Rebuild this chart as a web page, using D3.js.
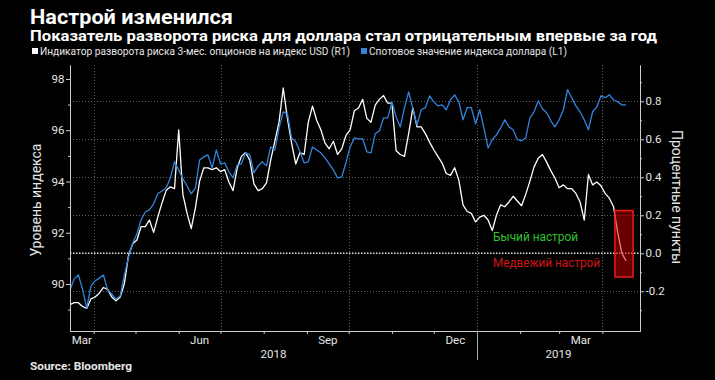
<!DOCTYPE html>
<html>
<head>
<meta charset="utf-8">
<script src="https://cdn.jsdelivr.net/npm/d3@7"></script>
<style>
  body { margin: 0; background: #000; }
  svg { display: block; font-family: Roboto, "Noto Sans", sans-serif; }
</style>
</head>
<body>
<div id="chart"></div>
<script>
// data, every 3 days
var dates = [
  "2018-03-15","2018-03-18","2018-03-21","2018-03-24","2018-03-27","2018-03-30",
  "2018-04-02","2018-04-05","2018-04-08","2018-04-11","2018-04-14","2018-04-17","2018-04-20","2018-04-23","2018-04-26","2018-04-29",
  "2018-05-02","2018-05-05","2018-05-08","2018-05-11","2018-05-14","2018-05-17","2018-05-20","2018-05-23","2018-05-26","2018-05-29",
  "2018-06-01","2018-06-04","2018-06-07","2018-06-10","2018-06-13","2018-06-16","2018-06-19","2018-06-22","2018-06-25","2018-06-28",
  "2018-07-01","2018-07-04","2018-07-07","2018-07-10","2018-07-13","2018-07-16","2018-07-19","2018-07-22","2018-07-25","2018-07-28","2018-07-31",
  "2018-08-03","2018-08-06","2018-08-09","2018-08-12","2018-08-15","2018-08-18","2018-08-21","2018-08-24","2018-08-27","2018-08-30",
  "2018-09-02","2018-09-05","2018-09-08","2018-09-11","2018-09-14","2018-09-17","2018-09-20","2018-09-23","2018-09-26","2018-09-29",
  "2018-10-02","2018-10-05","2018-10-08","2018-10-11","2018-10-14","2018-10-17","2018-10-20","2018-10-23","2018-10-26","2018-10-29",
  "2018-11-01","2018-11-04","2018-11-07","2018-11-10","2018-11-13","2018-11-16","2018-11-19","2018-11-22","2018-11-25","2018-11-28",
  "2018-12-01","2018-12-04","2018-12-07","2018-12-10","2018-12-13","2018-12-16","2018-12-19","2018-12-22","2018-12-25","2018-12-28","2018-12-31",
  "2019-01-03","2019-01-06","2019-01-09","2019-01-12","2019-01-15","2019-01-18","2019-01-21","2019-01-24","2019-01-27","2019-01-30",
  "2019-02-02","2019-02-05","2019-02-08","2019-02-11","2019-02-14","2019-02-17","2019-02-20","2019-02-23","2019-02-26",
  "2019-03-01","2019-03-04","2019-03-07","2019-03-10","2019-03-13","2019-03-16","2019-03-19","2019-03-22","2019-03-25","2019-03-28","2019-03-31",
  "2019-04-03","2019-04-06","2019-04-09","2019-04-12","2019-04-15","2019-04-18"
];

// spot dollar index (L1)
var dollarIndex = [
  89.77, 90.20, 90.35, 89.80, 89.06, 89.92,
  90.12, 90.23, 90.35, 89.77, 89.61, 89.41, 89.53, 90.35, 91.05, 91.60,
  91.95, 92.50, 92.81, 92.89, 93.13, 93.52, 93.63, 93.75, 94.14, 94.77,
  94.45, 94.10, 93.83, 93.52, 93.75, 94.84, 94.96, 95.04, 94.53, 95.23,
  94.69, 94.73, 94.38, 94.14, 94.65, 94.69, 95.12, 95.04, 94.34, 94.61, 94.77,
  94.61, 95.35, 95.23, 96.09, 96.72, 96.64, 95.70, 95.55, 95.16, 94.73,
  94.77, 95.35, 95.23, 95.12, 94.92, 94.69, 94.45, 94.14, 94.18, 94.73,
  95.35, 95.70, 95.66, 95.66, 95.16, 95.12, 95.86, 95.98, 96.48, 96.48,
  97.11, 96.52, 96.13, 96.88, 97.50, 96.84, 96.21, 96.80, 96.88, 97.34,
  97.11, 96.95, 96.99, 96.80, 97.19, 97.38, 97.11, 96.41, 96.88, 96.88, 96.25,
  96.80, 96.09, 95.31, 95.63, 95.82, 96.09, 96.41, 96.13, 96.02, 95.63,
  95.59, 95.70, 96.48, 96.72, 97.15, 96.84, 96.68, 96.37, 96.13,
  96.41, 96.80, 97.58, 97.27, 96.95, 96.72, 96.41, 96.02, 96.72, 96.91, 97.34,
  97.27, 97.38, 97.19, 97.11, 96.99, 96.99
];

// 3m risk reversal on USD index (R1)
var riskReversal = [
  -0.27, -0.26, -0.26, -0.28, -0.29, -0.24,
  -0.23, -0.21, -0.18, -0.19, -0.23, -0.25, -0.23, -0.16, -0.01, 0.05,
  0.07, 0.14, 0.14, 0.175, 0.11, 0.19, 0.265, 0.33, 0.35, 0.34,
  0.65, 0.31, 0.21, 0.13, 0.24, 0.38, 0.45, 0.45, 0.44, 0.45,
  0.43, 0.44, 0.375, 0.33, 0.45, 0.51, 0.53, 0.49, 0.365, 0.33, 0.34,
  0.37, 0.49, 0.59, 0.69, 0.87, 0.71, 0.58, 0.47, 0.53, 0.52,
  0.69, 0.775, 0.70, 0.65, 0.58, 0.55, 0.59, 0.52, 0.55, 0.62,
  0.65, 0.75, 0.765, 0.81, 0.71, 0.69, 0.78, 0.81, 0.83, 0.79,
  0.79, 0.54, 0.52, 0.51, 0.63, 0.765, 0.665, 0.665, 0.63, 0.585,
  0.545, 0.51, 0.475, 0.42, 0.41, 0.45, 0.385, 0.255, 0.22, 0.21, 0.165,
  0.19, 0.20, 0.175, 0.12, 0.20, 0.255, 0.245, 0.27, 0.30, 0.275,
  0.25, 0.31, 0.38, 0.455, 0.50, 0.52, 0.48, 0.435, 0.395,
  0.345, 0.36, 0.34, 0.34, 0.315, 0.27, 0.175, 0.415, 0.36, 0.375, 0.355,
  0.315, 0.29, 0.245, 0.11, 0.00, -0.04
];

var leftTicks = [90, 92, 94, 96, 98];
var leftMinor = [89, 91, 93, 95, 97];
var rightTicks = [-0.2, 0, 0.2, 0.4, 0.6, 0.8];
var rightMinor = [-0.3, -0.1, 0.1, 0.3, 0.5, 0.7, 0.9];
var monthLabels = ["Mar", "Jun", "Sep", "Dec", "Mar"];
var monthLabelStarts = ["2018-03-01", "2018-06-01", "2018-09-01", "2018-12-01", "2019-03-01"];
var yearLabels = ["2018", "2019"];
var legendLabels = ["Индикатор разворота риска 3-мес. опционов на индекс USD (R1)", "Спотовое значение индекса доллара (L1)"];
var boxDates = ["2019-04-10", "2019-04-23"];
var boxValues = [0.225, -0.125];

var width = 715, height = 380;
var parse = d3.timeParse("%Y-%m-%d");
var blue = "#3384dc";

var svg = d3.select("#chart").append("svg")
  .attr("width", width)
  .attr("height", height);

svg.append("rect")
  .attr("width", width)
  .attr("height", height)
  .attr("fill", "#000");

var plotTop = 65, plotBottom = 331, plotLeft = 70, plotRight = 640;
var x0 = parse("2018-03-15"), x1 = parse("2019-04-28");

var x = d3.scaleTime().domain([x0, x1]).range([plotLeft, plotRight]);
var yL = d3.scaleLinear().domain([88.166, 98.546]).range([plotBottom, plotTop]);
var yR = d3.scaleLinear().domain([-0.409, 0.991]).range([plotBottom, plotTop]);

// titles
svg.append("text").text("Настрой изменился")
  .attr("x", 30).attr("y", 24)
  .attr("fill", "#fff")
  .attr("font-weight", "bold")
  .attr("font-size", "21px")
  .attr("textLength", 203)
  .attr("lengthAdjust", "spacingAndGlyphs");

svg.append("text").text("Показатель разворота риска для доллара стал отрицательным впервые за год")
  .attr("x", 30).attr("y", 41)
  .attr("fill", "#fff")
  .attr("font-weight", "bold")
  .attr("font-size", "14.5px")
  .attr("textLength", 627)
  .attr("lengthAdjust", "spacingAndGlyphs");

// legend
var legendX = [32, 361], legendW = [310, 198];
var legendColors = ["#fff", blue];
legendLabels.forEach(function(t, i) {
  svg.append("rect")
    .attr("x", legendX[i]).attr("y", 48)
    .attr("width", 6).attr("height", 6)
    .attr("fill", legendColors[i]);
  svg.append("text").text(t)
    .attr("x", legendX[i] + 8).attr("y", 55)
    .attr("fill", "#e6e6e6")
    .attr("font-size", "10px")
    .attr("textLength", legendW[i])
    .attr("lengthAdjust", "spacingAndGlyphs");
});

// grid
var grid = svg.append("g");
grid.selectAll("line.h")
  .data(rightTicks.filter(function(d) { return d !== 0; }))
  .enter().append("line")
  .attr("x1", plotLeft).attr("x2", plotRight)
  .attr("y1", function(d) { return Math.round(yR(d)) + 0.5; })
  .attr("y2", function(d) { return Math.round(yR(d)) + 0.5; })
  .attr("stroke", "#777")
  .attr("stroke-width", 0.8)
  .attr("stroke-dasharray", "1,2");

var quarters = d3.timeMonths(x0, x1).filter(function(d) { return d.getMonth() % 3 === 0; });
grid.selectAll("line.v")
  .data(quarters)
  .enter().append("line")
  .attr("x1", function(d) { return Math.round(x(d)) + 0.5; })
  .attr("x2", function(d) { return Math.round(x(d)) + 0.5; })
  .attr("y1", plotTop).attr("y2", plotBottom)
  .attr("stroke", "#777")
  .attr("stroke-width", 0.8)
  .attr("stroke-dasharray", "1,2");

// zero line
svg.append("line")
  .attr("x1", plotLeft).attr("x2", plotRight)
  .attr("y1", yR(0)).attr("y2", yR(0))
  .attr("stroke", "#ddd")
  .attr("stroke-width", 1.6)
  .attr("stroke-dasharray", "1.5,1.5");

// lines
var rrLine = d3.line()
  .x(function(d, i) { return x(parse(dates[i])); })
  .y(function(d) { return yR(d); });
var dxyLine = d3.line()
  .x(function(d, i) { return x(parse(dates[i])); })
  .y(function(d) { return yL(d); });

svg.append("path")
  .datum(riskReversal)
  .attr("d", rrLine)
  .attr("fill", "none")
  .attr("stroke", "#fff")
  .attr("stroke-width", 1.3)
  .attr("stroke-linejoin", "round");

svg.append("path")
  .datum(dollarIndex)
  .attr("d", dxyLine)
  .attr("fill", "none")
  .attr("stroke", blue)
  .attr("stroke-width", 1.3)
  .attr("stroke-linejoin", "round");

// highlight box
var bx = x(parse(boxDates[0])), bx2 = x(parse(boxDates[1]));
svg.append("rect")
  .attr("x", bx).attr("y", yR(boxValues[0]))
  .attr("width", bx2 - bx)
  .attr("height", yR(boxValues[1]) - yR(boxValues[0]))
  .attr("fill", "rgba(210,0,0,0.5)")
  .attr("stroke", "#f01818")
  .attr("stroke-width", 1.5);

svg.append("text").text("Бычий настрой")
  .attr("x", 493).attr("y", 241)
  .attr("fill", "#2ec22e")
  .attr("font-size", "12px")
  .attr("textLength", 85)
  .attr("lengthAdjust", "spacingAndGlyphs");
svg.append("text").text("Медвежий настрой")
  .attr("x", 493).attr("y", 267)
  .attr("fill", "#d41414")
  .attr("font-size", "12px")
  .attr("textLength", 107)
  .attr("lengthAdjust", "spacingAndGlyphs");

// axes
function styleAxis(g) {
  g.selectAll("path, line").attr("stroke", "#ccc");
  g.selectAll("text").attr("fill", "#e6e6e6").attr("font-size", "11.5px").attr("font-family", "Roboto, sans-serif");
}

svg.append("g")
  .attr("transform", "translate(" + plotLeft + ",0)")
  .call(d3.axisLeft(yL).tickValues(leftTicks).tickSize(4).tickSizeOuter(0).tickPadding(1.5))
  .call(styleAxis);
svg.append("g")
  .attr("transform", "translate(" + plotLeft + ",0)")
  .call(d3.axisLeft(yL).tickValues(leftMinor).tickSize(2).tickSizeOuter(0).tickFormat(""))
  .call(styleAxis);

svg.append("g")
  .attr("transform", "translate(" + plotRight + ",0)")
  .call(d3.axisRight(yR).tickValues(rightTicks).tickSize(4).tickSizeOuter(0).tickPadding(1.5)
    .tickFormat(function(d) { return d.toFixed(1).replace("\u2212", "-"); }))
  .call(styleAxis);
svg.append("g")
  .attr("transform", "translate(" + plotRight + ",0)")
  .call(d3.axisRight(yR).tickValues(rightMinor).tickSize(2).tickSizeOuter(0).tickFormat(""))
  .call(styleAxis);

var months = d3.timeMonths(x0, x1);
svg.append("g")
  .attr("transform", "translate(0," + plotBottom + ")")
  .call(d3.axisBottom(x).tickValues(months).tickSize(3).tickSizeOuter(0).tickFormat(""))
  .call(styleAxis);

// month labels centered on the visible part of the month
svg.append("g").selectAll("text")
  .data(monthLabels)
  .enter().append("text")
  .text(function(d) { return d; })
  .attr("x", function(d, i) {
    var s = parse(monthLabelStarts[i]);
    var a = Math.max(x(s), plotLeft), b = Math.min(x(d3.timeMonth.offset(s, 1)), plotRight);
    return (a + b) / 2;
  })
  .attr("y", 344)
  .attr("text-anchor", "middle")
  .attr("fill", "#e6e6e6")
  .attr("font-size", "11.5px");

svg.append("g").selectAll("text")
  .data(yearLabels)
  .enter().append("text")
  .text(function(d) { return d; })
  .attr("x", function(d) {
    var s = parse(d + "-01-01");
    var a = Math.max(x(s), plotLeft), b = Math.min(x(d3.timeYear.offset(s, 1)), plotRight);
    return (a + b) / 2;
  })
  .attr("y", 358)
  .attr("text-anchor", "middle")
  .attr("fill", "#e6e6e6")
  .attr("font-size", "11.5px");

// year separator
svg.append("line")
  .attr("x1", Math.round(x(parse("2019-01-01"))) + 0.5)
  .attr("x2", Math.round(x(parse("2019-01-01"))) + 0.5)
  .attr("y1", plotBottom).attr("y2", 360)
  .attr("stroke", "#aaa")
  .attr("stroke-width", 1);

// axis titles
svg.append("text").text("Уровень индекса")
  .attr("transform", "translate(41," + 200 + ") rotate(-90)")
  .attr("text-anchor", "middle")
  .attr("fill", "#e6e6e6")
  .attr("font-size", "14px");
svg.append("text").text("Процентные пункты")
  .attr("transform", "translate(672," + 197 + ") rotate(90)")
  .attr("text-anchor", "middle")
  .attr("fill", "#e6e6e6")
  .attr("font-size", "14px");

svg.append("text").text("Source: Bloomberg")
  .attr("x", 30).attr("y", 370)
  .attr("fill", "#e6e6e6")
  .attr("font-weight", "bold")
  .attr("font-size", "11px")
  .attr("textLength", 102)
  .attr("lengthAdjust", "spacingAndGlyphs");
</script>
</body>
</html>
